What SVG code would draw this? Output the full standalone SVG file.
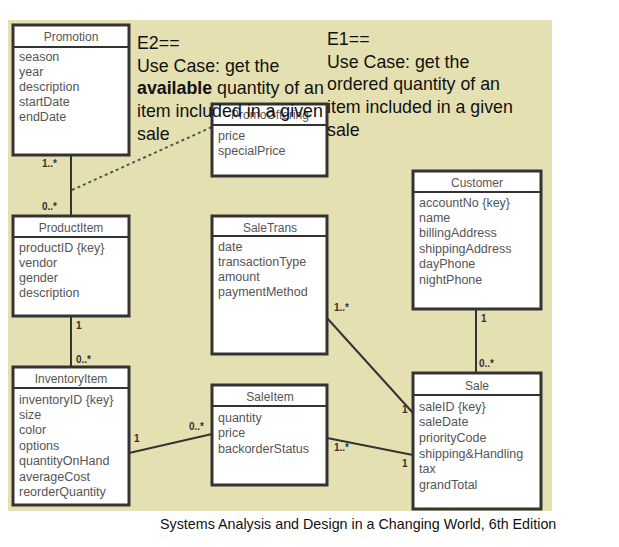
<svg xmlns="http://www.w3.org/2000/svg" width="619" height="547" viewBox="0 0 619 547">
<style>
.b{fill:#fff;stroke:#333;stroke-width:3}
.h{fill:none;stroke:#333;stroke-width:2}
.t{font-family:"Liberation Sans",Arial,sans-serif;font-size:12.5px;fill:#555}
.tt{font-family:"Liberation Sans",Arial,sans-serif;font-size:12px;fill:#555;text-anchor:middle}
.m{font-family:"Liberation Sans",Arial,sans-serif;font-size:10px;fill:#333;font-weight:bold}
.c{stroke:#333;stroke-width:2;fill:none}
.n{font-family:"Liberation Sans",Arial,sans-serif;font-size:17.8px;fill:#111}
</style>
<rect x="0" y="0" width="619" height="547" fill="#fff"/>
<rect x="8" y="20" width="544" height="491" fill="#e5e0b2"/>
<g id="connectors">
<line class="c" x1="71" y1="155" x2="71" y2="216"/>
<line x1="72" y1="190" x2="212" y2="127" stroke="#555" stroke-width="2" stroke-dasharray="3,3"/>
<line class="c" x1="71" y1="316" x2="71" y2="367"/>
<line class="c" x1="129" y1="453" x2="212" y2="434"/>
<line class="c" x1="327" y1="318" x2="413" y2="413"/>
<line class="c" x1="327" y1="438" x2="413" y2="455"/>
<line class="c" x1="476" y1="309" x2="476" y2="373"/>
<text class="m" x="42" y="167">1..*</text>
<text class="m" x="42" y="210">0..*</text>
<text class="m" x="76" y="329">1</text>
<text class="m" x="76" y="363">0..*</text>
<text class="m" x="134" y="442">1</text>
<text class="m" x="189" y="430">0..*</text>
<text class="m" x="334" y="311">1..*</text>
<text class="m" x="402" y="413">1</text>
<text class="m" x="334" y="451">1..*</text>
<text class="m" x="402" y="467">1</text>
<text class="m" x="481" y="322">1</text>
<text class="m" x="479" y="367">0..*</text>
</g>
<g id="promotion"><rect class="b" x="13" y="25" width="116" height="130"/><line class="h" x1="13" y1="47" x2="129" y2="47"/>
<text class="tt" x="71" y="41">Promotion</text>
<text class="t" x="19" y="61">season</text><text class="t" x="19" y="76">year</text><text class="t" x="19" y="91">description</text><text class="t" x="19" y="106">startDate</text><text class="t" x="19" y="121">endDate</text></g>
<g id="promooffering"><rect class="b" x="212" y="104" width="115" height="72"/><line class="h" x1="212" y1="125" x2="327" y2="125"/>
<text class="tt" x="270" y="119">PromoOffering</text>
<text class="t" x="218" y="140">price</text><text class="t" x="218" y="155">specialPrice</text></g>
<g id="productitem"><rect class="b" x="13" y="216" width="116" height="100"/><line class="h" x1="13" y1="237" x2="129" y2="237"/>
<text class="tt" x="71" y="232">ProductItem</text>
<text class="t" x="19" y="252">productID {key}</text><text class="t" x="19" y="267">vendor</text><text class="t" x="19" y="282">gender</text><text class="t" x="19" y="297">description</text></g>
<g id="saletrans"><rect class="b" x="212" y="216" width="115" height="138"/><line class="h" x1="212" y1="236" x2="327" y2="236"/>
<text class="tt" x="270" y="232">SaleTrans</text>
<text class="t" x="218" y="251">date</text><text class="t" x="218" y="266">transactionType</text><text class="t" x="218" y="281">amount</text><text class="t" x="218" y="296">paymentMethod</text></g>
<g id="inventoryitem"><rect class="b" x="13" y="367" width="116" height="138"/><line class="h" x1="13" y1="388" x2="129" y2="388"/>
<text class="tt" x="71" y="383">InventoryItem</text>
<text class="t" x="19" y="404">inventoryID {key}</text><text class="t" x="19" y="419">size</text><text class="t" x="19" y="434">color</text><text class="t" x="19" y="450">options</text><text class="t" x="19" y="465">quantityOnHand</text><text class="t" x="19" y="481">averageCost</text><text class="t" x="19" y="496">reorderQuantity</text></g>
<g id="saleitem"><rect class="b" x="212" y="385" width="115" height="100"/><line class="h" x1="212" y1="406" x2="327" y2="406"/>
<text class="tt" x="270" y="401">SaleItem</text>
<text class="t" x="218" y="422">quantity</text><text class="t" x="218" y="437">price</text><text class="t" x="218" y="453">backorderStatus</text></g>
<g id="customer"><rect class="b" x="413" y="171" width="128" height="138"/><line class="h" x1="413" y1="192" x2="541" y2="192"/>
<text class="tt" x="477" y="187">Customer</text>
<text class="t" x="419" y="207">accountNo {key}</text><text class="t" x="419" y="222">name</text><text class="t" x="419" y="237">billingAddress</text><text class="t" x="419" y="253">shippingAddress</text><text class="t" x="419" y="268">dayPhone</text><text class="t" x="419" y="284">nightPhone</text></g>
<g id="sale"><rect class="b" x="413" y="373" width="128" height="136"/><line class="h" x1="413" y1="395" x2="541" y2="395"/>
<text class="tt" x="477" y="390">Sale</text>
<text class="t" x="419" y="411">saleID {key}</text><text class="t" x="419" y="426">saleDate</text><text class="t" x="419" y="442">priorityCode</text><text class="t" x="419" y="458">shipping&amp;Handling</text><text class="t" x="419" y="473">tax</text><text class="t" x="419" y="489">grandTotal</text></g>
<g id="notes">
<text class="n" x="137" y="49">E2==</text>
<text class="n" x="137" y="72">Use Case: get the</text>
<text class="n" x="137" y="94"><tspan font-weight="bold">available</tspan> quantity of an</text>
<text class="n" x="137" y="117">item included in a given</text>
<text class="n" x="137" y="140">sale</text>
<text class="n" x="327" y="45">E1==</text>
<text class="n" x="327" y="68">Use Case: get the</text>
<text class="n" x="327" y="90">ordered quantity of an</text>
<text class="n" x="327" y="113">item included in a given</text>
<text class="n" x="327" y="136">sale</text>
</g>
<text x="160" y="529" font-family="Liberation Sans,Arial,sans-serif" font-size="14.3" fill="#111">Systems Analysis and Design in a Changing World, 6th Edition</text>
</svg>
